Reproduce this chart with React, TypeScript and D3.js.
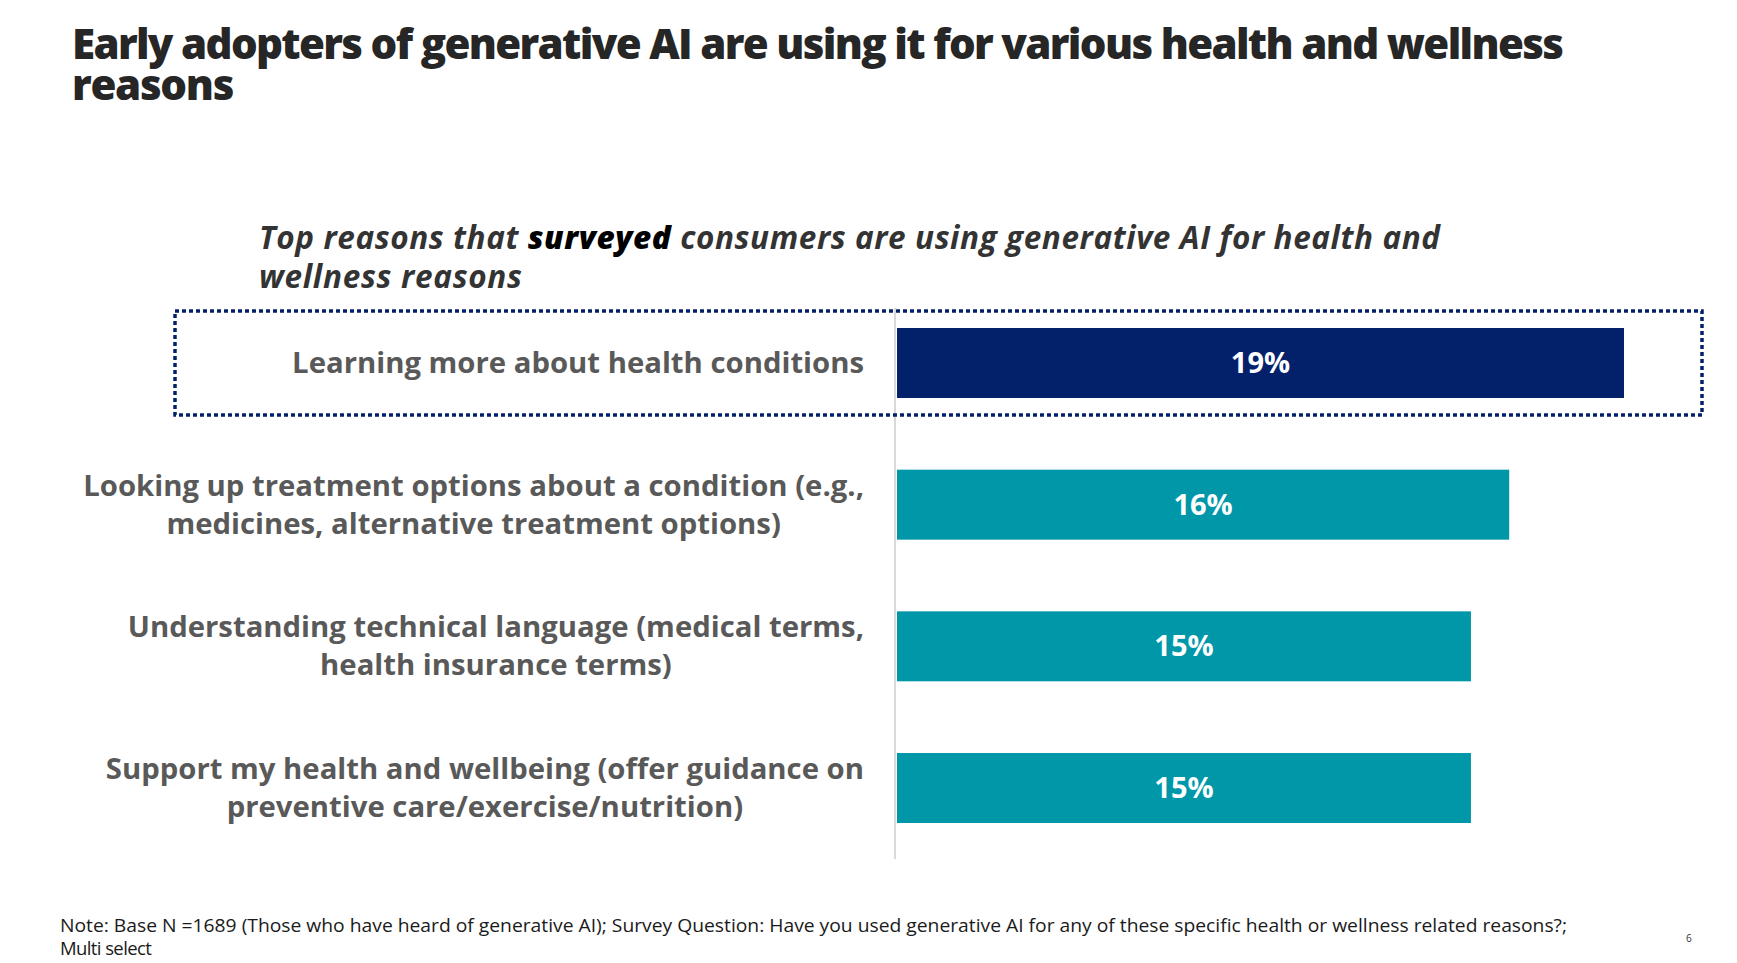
import React, { useLayoutEffect, useRef, useState } from "react";
import * as d3 from "d3";

const categories: string[][] = [
  ["Learning more about health conditions"],
  ["Looking up treatment options about a condition (e.g.,", "medicines, alternative treatment options)"],
  ["Understanding technical language (medical terms,", "health insurance terms)"],
  ["Support my health and wellbeing (offer guidance on", "preventive care/exercise/nutrition)"],
];
const values: number[] = [19, 16, 15, 15];
const valueLabels: string[] = ["19%", "16%", "15%", "15%"];
const highlighted: boolean[] = [true, false, false, false];

const titleLines = [
  "Early adopters of generative AI are using it for various health and wellness",
  "reasons",
];
const subtitleParts = ["Top reasons that ", "surveyed", " consumers are using generative AI for health and"];
const subtitleLine2 = "wellness reasons";
const noteLines = [
  "Note: Base N =1689 (Those who have heard of generative AI); Survey Question: Have you used generative AI for any of these specific health or wellness related reasons?;",
  "Multi select",
];

const W = 1737;
const H = 963;
const FONT = "'Open Sans', 'Noto Sans', sans-serif";

export default function App() {
  const ids = categories.map((_, i) => String(i));
  const y = d3
    .scaleBand<string>()
    .domain(ids)
    .range([328, 823])
    .paddingInner(0.506)
    .paddingOuter(0);
  const x = d3.scaleLinear().domain([0, 19]).range([897, 1624]);

  const navy = "#03216a";
  const teal = "#0097a9";
  const lineH = 38;
  const labelRight = 864;
  const labelSize = 29.3;

  const firstRefs = useRef<(SVGTextElement | null)[]>([]);
  const [widths, setWidths] = useState<number[]>(categories.map(() => 700));
  useLayoutEffect(() => {
    const w = firstRefs.current.map((el) => (el ? el.getComputedTextLength() : 700));
    setWidths(w);
  }, []);

  return (
    <svg
      width={W}
      height={H}
      style={{ position: "absolute", left: 0, top: 0, background: "#fff" }}
      fontFamily={FONT}
    >
      {/* Title */}
      <text x={72} y={59} fontSize={42} fontWeight={800} fill="#262626" textLength={1492} lengthAdjust="spacing">
        {titleLines[0]}
      </text>
      <text x={72} y={100} fontSize={42} fontWeight={800} fill="#262626" letterSpacing={-1.3}>
        {titleLines[1]}
      </text>

      {/* Subtitle */}
      <text
        x={259}
        y={249}
        fontSize={31.5}
        fontWeight={700}
        fontStyle="italic"
        fill="#333333"
        textLength={1181}
        lengthAdjust="spacing"
      >
        <tspan>{subtitleParts[0]}</tspan>
        <tspan fill="#000000" fontWeight={800}>{subtitleParts[1]}</tspan>
        <tspan>{subtitleParts[2]}</tspan>
      </text>
      <text
        x={259}
        y={288}
        fontSize={31.5}
        fontWeight={700}
        fontStyle="italic"
        fill="#333333"
        textLength={263}
        lengthAdjust="spacing"
      >
        {subtitleLine2}
      </text>

      {/* Axis line */}
      <line x1={x(0) - 2} x2={x(0) - 2} y1={308} y2={859} stroke="#d9d9d9" strokeWidth={2} />

      {/* Bars */}
      {values.map((v, i) => {
        const by = y(String(i))!;
        const bh = y.bandwidth();
        const cy = by + bh / 2;
        const lines = categories[i];
        const startBase = cy + 10 - ((lines.length - 1) * lineH) / 2;
        const blockCenter = labelRight - widths[i] / 2;
        return (
          <g key={i}>
            <rect x={x(0)} y={by} width={x(v) - x(0)} height={bh} fill={highlighted[i] ? navy : teal} />
            <text
              x={(x(0) + x(v)) / 2}
              y={cy + 10}
              textAnchor="middle"
              fontSize={29}
              fontWeight={700}
              fill="#ffffff"
            >
              {valueLabels[i]}
            </text>
            {lines.map((ln, j) => (
              <text
                key={j}
                ref={j === 0 ? (el) => { firstRefs.current[i] = el; } : undefined}
                x={j === 0 ? labelRight : blockCenter}
                y={startBase + j * lineH}
                textAnchor={j === 0 ? "end" : "middle"}
                fontSize={labelSize}
                fontWeight={700}
                fill="#595959"
              >
                {ln}
              </text>
            ))}
          </g>
        );
      })}

      {/* Highlight box */}
      {values.map((v, i) =>
        highlighted[i] ? (
          <rect
            key={"hb" + i}
            x={175}
            y={y(String(i))! - 17}
            width={1702 - 175}
            height={y.bandwidth() + 34}
            fill="none"
            stroke={navy}
            strokeWidth={3.5}
            strokeDasharray="4 3"
          />
        ) : null
      )}

      {/* Note */}
      <text x={60} y={932} fontSize={18.5} fill="#1a1a1a" textLength={1507} lengthAdjust="spacingAndGlyphs">
        {noteLines[0]}
      </text>
      <text x={60} y={955} fontSize={18.5} fill="#1a1a1a" letterSpacing={-0.6}>
        {noteLines[1]}
      </text>
      <text x={1686} y={942} fontSize={10} fill="#333">6</text>
    </svg>
  );
}
